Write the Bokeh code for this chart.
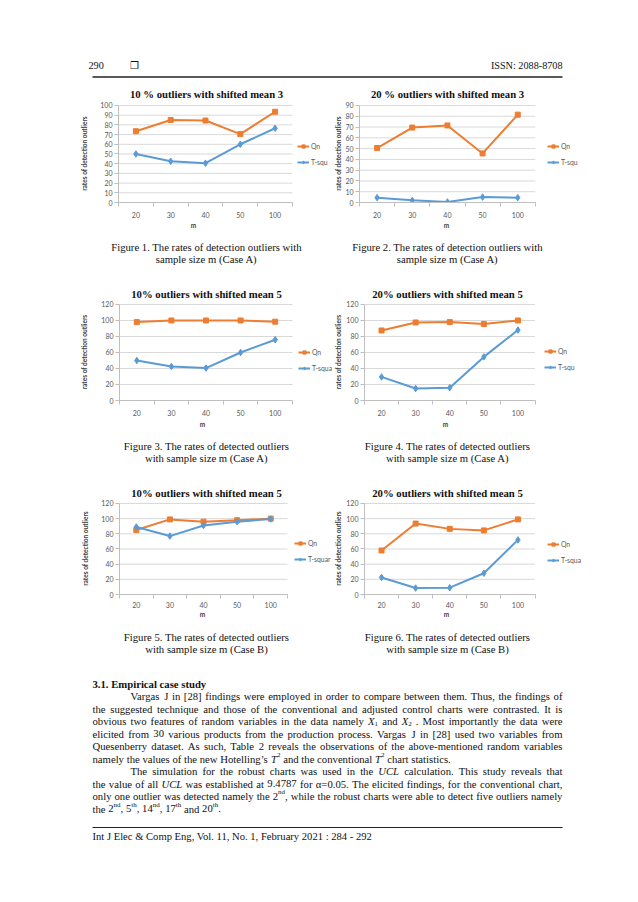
import re
import numpy as np
from bokeh.plotting import figure
from bokeh.models import Range1d, FixedTicker, Legend, LegendItem
from bokeh.layouts import column, row
from bokeh.embed import file_html
from bokeh.resources import INLINE
from bokeh.core.properties import value

# ---------------------------------------------------------------- data
m_labels = ["20", "30", "40", "50", "100"]

qn_fig1 = [73.5, 85, 84.5, 70.5, 93.5]
tsq_fig1 = [50, 42.5, 40.5, 60, 76.5]
qn_fig2 = [50.5, 69.5, 71.5, 45.5, 81.5]
tsq_fig2 = [4.5, 2, 0.5, 5, 4.5]
qn_fig3 = [98, 100, 100, 100, 98.5]
tsq_fig3 = [50, 42.5, 40.5, 60, 76]
qn_fig4 = [87.5, 97.5, 98, 95.5, 100]
tsq_fig4 = [29.5, 15, 16, 54.5, 88]
qn_fig5 = [85, 99, 96, 98, 100]
tsq_fig5 = [89, 77, 91, 96, 99.5]
qn_fig6 = [58, 93.5, 86.5, 84.5, 99]
tsq_fig6 = [22.5, 8.5, 9, 28, 72]

y_max = [100, 90, 120, 120, 120, 120]
y_step = [10, 10, 20, 20, 20, 20]
qn_label = "Qn"
tsq_labels = ["T-squ", "T-squ", "T-squa", "T-squ", "T-squar", "T-squa"]
y_title = "rates of detection outliers"
x_title = "m"

chart_titles = [
    "10 % outliers with shifted mean 3",
    "20 % outliers with shifted mean 3",
    "10% outliers with shifted mean 5",
    "20% outliers with shifted mean 5",
    "10% outliers with shifted mean 5",
    "20% outliers with shifted mean 5",
]
captions = [
    ("Figure 1. The rates of detection outliers with", "sample size m (Case A)"),
    ("Figure 2. The rates of detection outliers with", "sample size m (Case A)"),
    ("Figure 3. The rates of detected outliers", "with sample size m (Case A)"),
    ("Figure 4. The rates of detected outliers", "with sample size m (Case A)"),
    ("Figure 5. The rates of detected outliers", "with sample size m (Case B)"),
    ("Figure 6. The rates of detected outliers", "with sample size m (Case B)"),
]

header_left = "290"
header_box = "\u2750"
header_right = "ISSN: 2088-8708"
footer_text = "Int J Elec & Comp Eng, Vol. 11, No. 1, February 2021 :  284 - 292"
section_heading = "3.1.  Empirical case study"
paragraph_lines = [
    (True, True, "Vargas J in [28] findings were employed in order to compare between them. Thus, the findings of"),
    (False, True, "the suggested technique and those of the conventional and adjusted control charts were contrasted. It is"),
    (False, True, "obvious two features of random variables in the data namely {i:X}{sub:1} and {i:X}{sub:2} . Most importantly the data were"),
    (False, True, "elicited from 30 various products from the production process. Vargas J in [28] used two variables from"),
    (False, True, "Quesenberry dataset. As such, Table 2 reveals the observations of the above-mentioned random variables"),
    (False, False, "namely the values of the new Hotelling\u2019s {i:T}{sup:2} and the conventional {i:T}{sup:2} chart statistics."),
    (True, True, "The simulation for the robust charts was used in the {i:UCL} calculation. This study reveals that"),
    (False, True, "the value of all {i:UCL} was established at 9.4787 for \u03b1=0.05. The elicited findings, for the conventional chart,"),
    (False, True, "only one outlier was detected namely the 2{sup:nd}, while the robust charts were able to detect five outliers namely"),
    (False, False, "the 2{sup:nd}, 5{sup:th}, 14{sup:nd}, 17{sup:th} and 20{sup:th}."),
]

# ---------------------------------------------------------------- style / layout
ORANGE = "#ED7D31"
BLUE = "#5B9BD5"
GRID = "#D9D9D9"
AXIS = "#BFBFBF"
TICK_TXT = "#595959"
TITLE_TXT = "#404040"
INK = "#111111"
SERIF = "Liberation Serif"
SANS = "Lato"
BODY = 10.7
SMALL = 7.0
PAGE_L, PAGE_R = 0, 638
SPLIT = 332
TEXT_L, TEXT_R, INDENT = 92, 562, 130

# chart geometry in page pixels:
# (fig_left, fig_top, fig_w, fig_h, frame_l, plot_r, frame_t, frame_b, ylabel_standoff, legend_dx, legend_qn_y)
chart_geom = [
    (0, 98, SPLIT, 122, 118, 292, 104, 204, 9, 5, 148),
    (SPLIT, 98, 638 - SPLIT, 122, 354, 533, 105, 204, 0, 9, 148),
    (0, 299, SPLIT, 119, 119, 292, 304, 402, 10, 6, 354),
    (SPLIT, 299, 638 - SPLIT, 119, 360, 533, 304, 403, 1, 7, 354),
    (0, 498, SPLIT, 112, 119, 287, 503, 597, 9, 7, 546),
    (SPLIT, 498, 638 - SPLIT, 112, 360, 533, 503, 598, 1, 10, 548),
]
x_label_std = [5, 5, 5, 5, 3, 3]
col_center = [206, 447]
m_pos = [(193, 224.5), (446, 225), (202, 423.5), (445, 424), (202, 614), (446, 614)]
bands = [(0, 98), (220, 299), (418, 498), (610, 902)]
title_y = [93, 93, 293, 293, 492, 492]
caption_y = [(246, 258), (246, 258), (445, 457), (445, 457), (636, 648), (636, 648)]

# Times-Roman advance widths (per 1000 em)
TW = {' ': 250, '!': 333, '%': 833, '&': 778, "'": 180, '\u2019': 333, '(': 333, ')': 333,
      ',': 250, '-': 333, '.': 250, '/': 278, ':': 278, ';': 278, '=': 564, '[': 333, ']': 333,
      '\u03b1': 521}
for ch in "0123456789":
    TW[ch] = 500
TW.update(dict(zip("ABCDEFGHIJKLMNOPQRSTUVWXYZ",
                   [722, 667, 667, 722, 611, 556, 722, 722, 333, 389, 722, 611, 889, 722, 722, 556,
                    722, 667, 556, 611, 722, 722, 944, 722, 722, 611])))
TW.update(dict(zip("abcdefghijklmnopqrstuvwxyz",
                   [444, 500, 444, 500, 444, 333, 500, 500, 278, 278, 500, 278, 778, 500, 500, 500,
                    500, 333, 389, 278, 500, 500, 722, 500, 500, 444])))
TW_ITALIC = {'X': 611, 'T': 556, 'U': 722, 'C': 667, 'L': 556}


def band_fig(top, bottom):
    p = figure(width=PAGE_R - PAGE_L, height=bottom - top,
               x_range=Range1d(PAGE_L, PAGE_R), y_range=Range1d(bottom, top),
               output_backend="svg", toolbar_location=None,
               x_axis_type=None, y_axis_type=None,
               min_border_left=0, min_border_right=0, min_border_top=0, min_border_bottom=0)
    p.outline_line_color = None
    p.background_fill_color = "white"
    p.border_fill_color = "white"
    return p


def put_text(p, xs, ys, texts, font=SERIF, size=BODY, style="normal", align="left",
             color=INK):
    if not texts:
        return
    p.text(x=xs, y=ys, text=texts, text_font=value(font), text_font_size=f"{size}px",
           text_font_style=style, text_align=align, text_baseline="middle", text_color=color)


TOKEN = re.compile(r"\{(i|sub|sup):([^}]*)\}|([^{]+)")


def parse_word(w):
    runs = []
    for mt in TOKEN.finditer(w):
        if mt.group(1):
            runs.append((mt.group(2), mt.group(1)))
        else:
            runs.append((mt.group(3), "n"))
    return runs


def run_width(txt, style):
    size = SMALL if style in ("sub", "sup") else BODY
    tot = 0
    for ch in txt:
        if style == "i" and ch in TW_ITALIC:
            tot += TW_ITALIC[ch]
        else:
            tot += TW.get(ch, 500)
    return tot * size / 1000.0


def set_line(store, x0, x1, y, line, justify):
    words = [parse_word(w) for w in line.split(" ") if w]
    widths = [sum(run_width(t, s) for t, s in wd) for wd in words]
    if justify and len(words) > 1:
        gap = (x1 - x0 - sum(widths)) / (len(words) - 1)
    else:
        gap = TW[' '] * BODY / 1000.0
    x = x0
    for wd, wdt in zip(words, widths):
        xx = x
        for t, s in wd:
            dy = {"sup": -3.6, "sub": 2.8}.get(s, 0)
            store.setdefault(s, ([], [], []))
            store[s][0].append(xx)
            store[s][1].append(y + dy)
            store[s][2].append(t)
            xx += run_width(t, s)
        x += wdt + gap


def make_chart(i, qn, tsq):
    fl, ft, fw, fh, frl, prr, frt, frb, ystand, ldx, lqn = chart_geom[i]
    n = len(m_labels)
    plot_w = prr - frl                 # width of the category area
    frame_w = fl + fw - frl            # frame runs on to the right edge (legend area)
    frame_h = frb - frt
    x_end = -0.5 + n * frame_w / plot_w
    y_end = y_max[i] * (frame_h + 1) / frame_h
    p = figure(width=fw, height=fh,
               x_range=Range1d(-0.5, x_end), y_range=Range1d(0, y_end),
               output_backend="svg", toolbar_location=None,
               min_border_left=frl - fl, min_border_right=0,
               min_border_top=frt - ft - 1, min_border_bottom=ft + fh - frb)
    p.outline_line_color = None
    p.background_fill_color = "white"
    p.border_fill_color = "white"
    p.xgrid.visible = False
    p.ygrid.visible = False

    xs = np.arange(n)
    ticks = list(range(0, y_max[i] + 1, y_step[i]))
    # horizontal gridlines limited to the category area
    p.segment(x0=[-0.5] * len(ticks), x1=[n - 0.5] * len(ticks), y0=ticks, y1=ticks,
              line_color=GRID, line_width=1)

    l1 = p.line(xs, qn, line_color=ORANGE, line_width=2)
    s1 = p.scatter(xs, qn, marker="square", size=5, fill_color=ORANGE, line_color=ORANGE)
    l2 = p.line(xs, tsq, line_color=BLUE, line_width=2)
    s2 = p.scatter(xs, tsq, marker="diamond", size=6.5, fill_color=BLUE, line_color=BLUE)

    xa = p.xaxis[0]
    xa.bounds = (-0.5, n - 0.5)
    xa.ticker = FixedTicker(ticks=list(range(n)), minor_ticks=[k - 0.5 for k in range(n + 1)])
    xa.major_label_overrides = {k: lab for k, lab in enumerate(m_labels)}
    xa.major_tick_out = 0
    xa.major_tick_in = 0
    xa.major_tick_line_color = None
    xa.minor_tick_out = 4
    xa.minor_tick_in = 0
    xa.minor_tick_line_color = AXIS
    xa.axis_line_color = AXIS
    xa.major_label_standoff = x_label_std[i]
    xa.major_label_text_font = SANS
    xa.major_label_text_font_size = "7px"
    xa.major_label_text_color = TICK_TXT

    ya = p.yaxis[0]
    ya.bounds = (0, y_max[i])
    ya.ticker = FixedTicker(ticks=ticks, minor_ticks=[])
    ya.major_tick_out = 4
    ya.major_tick_in = 0
    ya.major_tick_line_color = AXIS
    ya.minor_tick_line_color = None
    ya.axis_line_color = AXIS
    ya.major_label_standoff = 2
    ya.major_label_text_font = SANS
    ya.major_label_text_font_size = "7px"
    ya.major_label_text_color = TICK_TXT
    ya.axis_label = y_title
    ya.axis_label_text_font = SANS
    ya.axis_label_text_font_size = "6.5px"
    ya.axis_label_text_font_style = "bold"
    ya.axis_label_text_color = TITLE_TXT
    ya.axis_label_standoff = ystand

    leg = Legend(items=[LegendItem(label=qn_label, renderers=[l1, s1]),
                        LegendItem(label=tsq_labels[i], renderers=[l2, s2])],
                 location=(plot_w + ldx, frb - (lqn + 20)), orientation="vertical",
                 glyph_width=12, glyph_height=8, label_height=8, label_standoff=2,
                 spacing=8, padding=0, margin=0, border_line_color=None,
                 background_fill_alpha=0, label_text_font=SANS,
                 label_text_font_size="6.8px", label_text_color=TICK_TXT)
    p.add_layout(leg)
    return p


qn_all = [qn_fig1, qn_fig2, qn_fig3, qn_fig4, qn_fig5, qn_fig6]
tsq_all = [tsq_fig1, tsq_fig2, tsq_fig3, tsq_fig4, tsq_fig5, tsq_fig6]
charts = [make_chart(i, qn_all[i], tsq_all[i]) for i in range(6)]

band_figs = [band_fig(t, b) for t, b in bands]

# header
hp = band_figs[0]
put_text(hp, [88], [65], [header_left], size=10.2)
put_text(hp, [134], [65], [header_box], font="DejaVu Sans", size=10, align="center")
put_text(hp, [TEXT_R], [65], [header_right], size=10.2, align="right")
hp.segment(x0=[TEXT_L], y0=[76.5], x1=[TEXT_R], y1=[76.5], line_color="#222222", line_width=1.3)


def band_for_y(y):
    for k, (t, b) in enumerate(bands):
        if t <= y <= b:
            return band_figs[k]
    raise ValueError(y)


for i in range(6):
    cx = col_center[i % 2]
    put_text(band_for_y(title_y[i]), [cx], [title_y[i]], [chart_titles[i]], style="bold",
             align="center")
    mx, my = m_pos[i]
    put_text(band_for_y(my), [mx], [my], [x_title], font=SANS, size=6.5, style="bold",
             align="center", color=TITLE_TXT)
    c1, c2 = caption_y[i]
    bp = band_for_y(c1)
    put_text(bp, [cx, cx], [c1, c2], list(captions[i]), align="center")

# body text
tp = band_figs[3]
put_text(tp, [TEXT_L], [683], [section_heading], style="bold")
store = {}
line_y0, line_dy = 695.5, 12.5
for k, (indent, justify, line) in enumerate(paragraph_lines):
    set_line(store, INDENT if indent else TEXT_L, TEXT_R, line_y0 + k * line_dy, line, justify)
style_map = {"n": ("normal", BODY), "i": ("italic", BODY), "sup": ("normal", SMALL),
             "sub": ("normal", SMALL)}
for s, (xs_, ys_, ts_) in store.items():
    fs, sz = style_map[s]
    put_text(tp, xs_, ys_, ts_, style=fs, size=sz)

tp.segment(x0=[TEXT_L], y0=[827], x1=[TEXT_R], y1=[827], line_color="#222222", line_width=1.2)
put_text(tp, [TEXT_L], [835.5], [footer_text], size=10.6)

layout = column(
    band_figs[0],
    row(charts[0], charts[1]),
    band_figs[1],
    row(charts[2], charts[3]),
    band_figs[2],
    row(charts[4], charts[5]),
    band_figs[3],
)

open("out.html", "w").write(file_html(layout, INLINE))
